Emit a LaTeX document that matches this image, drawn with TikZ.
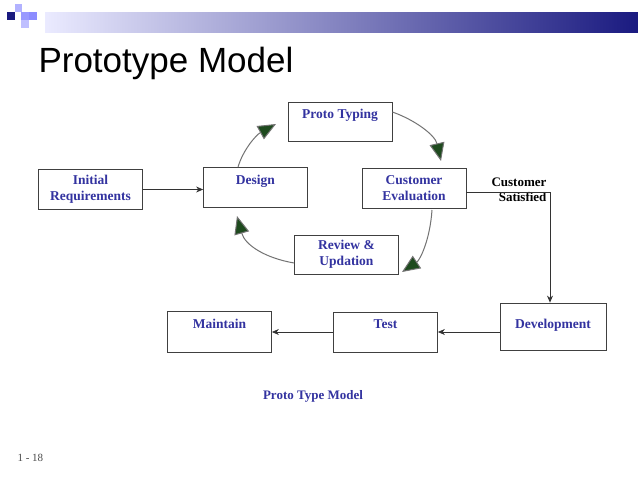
\documentclass[tikz,border=0pt]{standalone}
\usepackage{fontspec}
\setmainfont{Liberation Serif}
\newfontfamily\sansf{Liberation Sans}
\usetikzlibrary{arrows.meta}
\definecolor{txtblue}{HTML}{3333A0}
\definecolor{navy}{HTML}{1A1A80}
\definecolor{headg}{HTML}{1E4A1E}
\begin{document}
\begin{tikzpicture}[x=1pt,y=-1pt,
  box/.style={draw=black!75,line width=0.8pt,minimum width=104pt,minimum height=40pt,align=center,font=\fontsize{13.5}{16}\selectfont\bfseries,text=txtblue,inner sep=1pt},
  one/.style={text depth=15pt},
  carr/.style={draw=black!55,line width=1pt,-{Triangle[length=18pt,width=15pt,fill=headg]}},
  sarr/.style={draw=black!80,line width=0.8pt,-{Stealth[length=7pt,width=6pt]}}]
\useasboundingbox (0,0) rectangle (638,479);
\fill[white] (0,0) rectangle (638,479);
% header
\shade[left color=blue!8,right color=navy] (45,12) rectangle (638,32);
\fill[navy] (7,12) rectangle (15,20);
\fill[blue!30] (15,4) rectangle (22,12);
\fill[blue!40] (21,12) rectangle (29,20);
\fill[blue!25] (21,20) rectangle (29,28);
\fill[blue!45] (29,12) rectangle (37,20);
\node[anchor=west,font=\sansf\fontsize{35}{37}\selectfont] (title) at (35,63) {Prototype Model};
% boxes
\node[box] (ir) at (90.5,189.5) {Initial\\Requirements};
\node[box,one] (de) at (255.5,187.5) {Design};
\node[box,one,minimum height=39pt] (pt) at (340,121.5) {Proto Typing};
\node[box] (ce) at (414,188) {Customer\\Evaluation};
\node[box,minimum height=39pt] (ru) at (346.5,254.5) {Review \&\\Updation};
\node[box,minimum width=106pt,minimum height=47pt,text depth=6pt] (dv) at (553,326.5) {Development};
\node[box,one] (te) at (385.5,332) {Test};
\node[box,one,minimum height=41pt] (ma) at (219.5,331.5) {Maintain};
\node[align=right,font=\fontsize{13}{15}\selectfont\bfseries] (cs) at (519,189.5) {Customer\\\hphantom{ii}Satisfied};
\coordinate (corner) at (550,192);
% connectors
\draw[sarr] (ir) -- (ir -| de.west);
\draw[sarr] (dv.west |- te) -- (te);
\draw[sarr] (te) -- (te -| ma.east);
\draw[sarr] (ce.east |- corner) -- (corner) -- (corner |- dv.north);
\draw[carr] (de.north -| 238,0) .. controls (243,150) and (256,135) .. (276,124);
\draw[carr] (pt.east |- 0,112) .. controls (415,120) and (435,135) .. (441,161);
\draw[carr] (432,210) .. controls (430,240) and (420,260) .. (402,272);
\draw[carr] (ru.west |- 0,263) .. controls (265,258) and (245,245) .. (237,216);
\node[font=\fontsize{13}{15}\selectfont\bfseries,text=txtblue] (cap) at (313,396) {Proto Type Model};
\node[anchor=west,font=\fontsize{11}{12}\selectfont,text=black!70] (pg) at (14,458) {1 - 18};
\end{tikzpicture}
\end{document}
